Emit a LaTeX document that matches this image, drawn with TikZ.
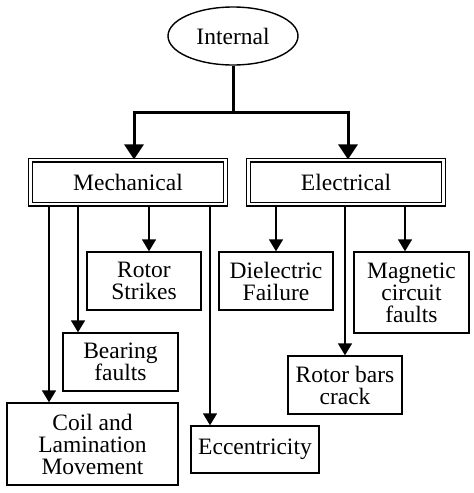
\documentclass[tikz,border=0pt]{standalone}
\usepackage{fontspec}
\setmainfont{Liberation Serif}
\usetikzlibrary{arrows.meta,shapes.geometric}

\tikzset{
  fault/.style={draw, line width=1.4pt, align=center, inner sep=1pt},
  group/.style={draw, line width=1.2pt, double, double distance=2.6pt, minimum width=195pt, minimum height=44pt},
  bigarr/.style={line width=3pt, -{Triangle[width=19pt,length=15pt]}},
  smallarr/.style={line width=1.7pt, -{Triangle[width=14pt,length=12pt]}}
}

\begin{document}
\begin{tikzpicture}[x=1pt,y=1pt,yscale=-1,xscale=1]
\useasboundingbox (0,0) rectangle (474,493);
\fontsize{23.5}{22}\selectfont

% Root Node
\node [draw, ellipse, line width=1.4pt, minimum width=130pt, minimum height=58pt, inner sep=0pt] (int) at (233,36) {Internal};

% Group Nodes
\node [group] (mech) at (128,182) {Mechanical};
\node [group] (elec) at (346,182) {Electrical};

% Fault Nodes
\node [fault, minimum width=114pt, minimum height=58pt] (rotor) at (144,281) {Rotor\\Strikes};
\node [fault, minimum width=114pt, minimum height=58pt] (diel) at (276,281) {Dielectric\\Failure};
\node [fault, minimum width=115pt, minimum height=81pt] (magn) at (411.5,292.5) {Magnetic\\circuit\\faults};
\node [fault, minimum width=115pt, minimum height=58pt] (bear) at (120.5,362) {Bearing\\faults};
\node [fault, minimum width=114pt, minimum height=58pt] (bars) at (345,385) {Rotor bars\\crack};
\node [fault, minimum width=171pt, minimum height=82pt] (coil) at (92.5,444) {Coil and\\Lamination\\Movement};
\node [fault, minimum width=128pt, minimum height=47pt] (ecc) at (255,449.5) {Eccentricity};

% Branch points
\coordinate (mx) at (134,112);
\coordinate (ex) at (348,112);
\coordinate (c1) at (49,0);
\coordinate (c2) at (78,0);
\coordinate (c3) at (149,0);
\coordinate (c4) at (210,0);
\coordinate (c5) at (276,0);
\coordinate (c6) at (345,0);
\coordinate (c7) at (405,0);

% Thick Arrows
\draw [bigarr] (int.south) |- (mx) -- (mx |- mech.north);
\draw [bigarr] (int.south) |- (ex) -- (ex |- elec.north);

% Mechanical Arrows
\draw [smallarr] (mech.south -| c1) -- (coil.north -| c1);
\draw [smallarr] (mech.south -| c2) -- (bear.north -| c2);
\draw [smallarr] (mech.south -| c3) -- (rotor.north -| c3);
\draw [smallarr] (mech.south -| c4) -- (ecc.north -| c4);

% Electrical Arrows
\draw [smallarr] (elec.south -| c5) -- (diel.north -| c5);
\draw [smallarr] (elec.south -| c6) -- (bars.north -| c6);
\draw [smallarr] (elec.south -| c7) -- (magn.north -| c7);

\end{tikzpicture}
\end{document}
